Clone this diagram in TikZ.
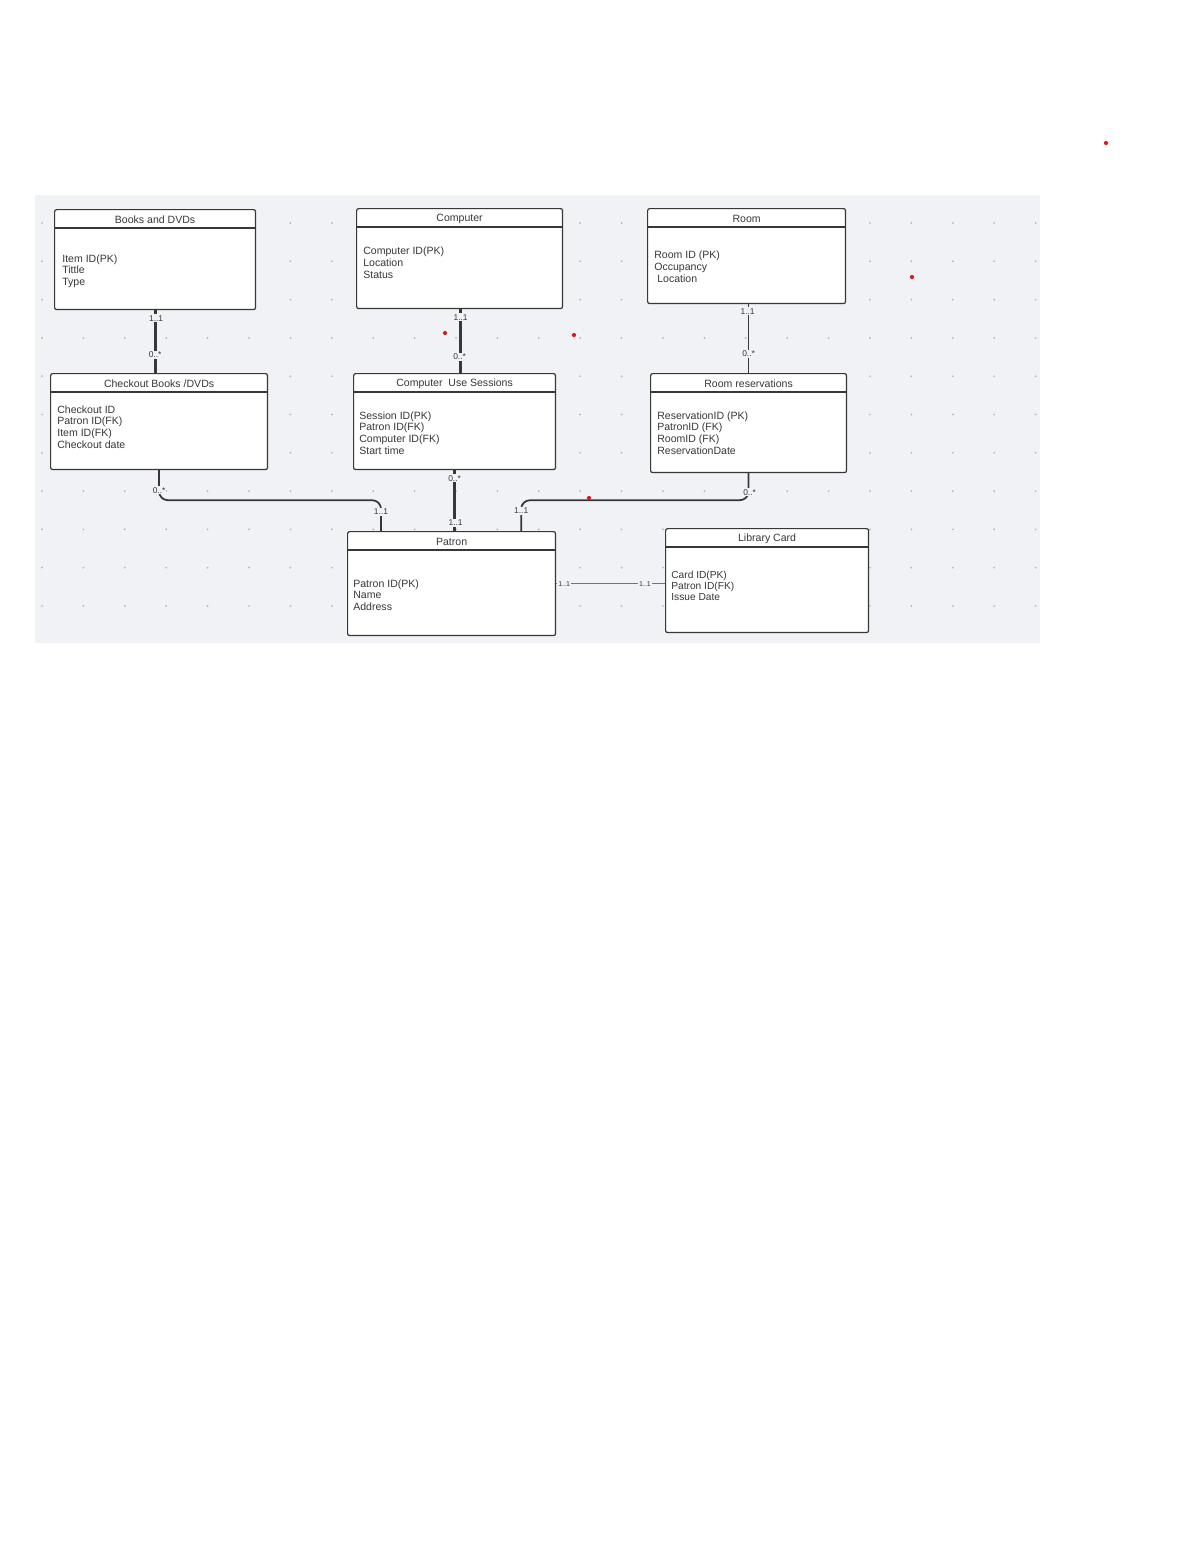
\documentclass[tikz,border=0pt]{standalone}
\usepackage{fontspec}
\setmainfont{Liberation Sans}
\usetikzlibrary{calc}
\definecolor{canvas}{RGB}{240,242,245}
\definecolor{ink}{RGB}{55,55,58}
\definecolor{griddot}{RGB}{175,180,188}
\definecolor{redmark}{RGB}{225,25,25}
\begin{document}
\begin{tikzpicture}[x=0.02cm,y=-0.02cm,
    entity/.style={draw=ink,fill=white,rounded corners=1.2pt,line width=0.7pt,anchor=north west,inner sep=0pt},
    etitle/.style={font=\fontsize{6}{7}\selectfont,text=ink,inner sep=0pt},
    attrs/.style={font=\fontsize{6}{6.8}\selectfont,text=ink,align=left,anchor=north west,inner sep=0pt},
    mult/.style={font=\fontsize{4.8}{5}\selectfont,text=ink,fill=canvas,inner sep=0.6pt},
    rel/.style={draw=ink,line width=1.7pt},
    elbow/.style={draw=ink,line width=1pt,rounded corners=5pt},
    link/.style={draw=ink!70,line width=0.4pt}]
    \useasboundingbox (0,0) rectangle (1200,1553);
    \fill[canvas] (35,195) rectangle (1040,643);
    % dot grid
    \foreach \i in {0,...,24}
      \foreach \j in {0,...,10}
        \fill[griddot] (42+41.4*\i,223+38.3*\j) circle[radius=0.55pt];
    % entities
    \node[entity,minimum width=4.02cm,minimum height=2cm] (books) at (54,209) {};
    \node[entity,minimum width=4.12cm,minimum height=2cm] (computer) at (356,208) {};
    \node[entity,minimum width=3.96cm,minimum height=1.9cm] (room) at (647,208) {};
    \node[entity,minimum width=4.34cm,minimum height=1.92cm] (checkout) at (50,373) {};
    \node[entity,minimum width=4.04cm,minimum height=1.92cm] (sessions) at (353,373) {};
    \node[entity,minimum width=3.92cm,minimum height=1.98cm] (reservations) at (650,373) {};
    \node[entity,minimum width=4.16cm,minimum height=2.08cm] (patron) at (347,531) {};
    \node[entity,minimum width=4.06cm,minimum height=2.08cm] (card) at (665,528) {};
    % header lines
    \foreach \e in {books,computer,room,checkout,sessions,reservations,patron,card}
      \draw[ink,line width=0.9pt] ($(\e.north west)+(0,19)$) -- ($(\e.north east)+(0,19)$);
    % titles
    \node[etitle] (books-t) at ($(books.north)+(0,10.5)$) {Books and DVDs};
    \node[etitle] (computer-t) at ($(computer.north)+(0,11)$) {Computer};
    \node[etitle] (room-t) at ($(room.north)+(0,11)$) {Room};
    \node[etitle] (checkout-t) at ($(checkout.north)+(0,11)$) {Checkout Books /DVDs};
    \node[etitle] (sessions-t) at ($(sessions.north)+(0,11)$) {Computer\ \ Use Sessions};
    \node[etitle] (reservations-t) at ($(reservations.north)+(0,11)$) {Room reservations};
    \node[etitle] (patron-t) at ($(patron.north)+(0,11)$) {Patron};
    \node[etitle] (card-t) at ($(card.north)+(0,11)$) {Library Card};
    % attributes
    \node[attrs] (books-a) at ($(books.north west)+(8,45)$) {Item ID(PK)\\Tittle\\Type};
    \node[attrs] (computer-a) at ($(computer.north west)+(7,39)$) {Computer ID(PK)\\Location\\Status};
    \node[attrs] (room-a) at ($(room.north west)+(7,43)$) {Room ID (PK)\\Occupancy\\\ Location};
    \node[attrs] (checkout-a) at ($(checkout.north west)+(7,32)$) {Checkout ID\\Patron ID(FK)\\Item ID(FK)\\Checkout date};
    \node[attrs] (sessions-a) at ($(sessions.north west)+(6,38)$) {Session ID(PK)\\Patron ID(FK)\\Computer ID(FK)\\Start time};
    \node[attrs] (reservations-a) at ($(reservations.north west)+(7,38)$) {ReservationID (PK)\\PatronID (FK)\\RoomID (FK)\\ReservationDate};
    \node[attrs] (patron-a) at ($(patron.north west)+(6,48)$) {Patron ID(PK)\\Name\\Address};
    \node[attrs,font=\fontsize{5.8}{6.3}\selectfont] (card-a) at ($(card.north west)+(6,43)$) {Card ID(PK)\\Patron ID(FK)\\Issue Date};
    % relationships
    \draw[rel] (books.south) -- (books.south |- checkout.north);
    \draw[rel] ($(computer.south)+(1,0)$) -- ($(computer.south |- sessions.north)+(1,0)$);
    \draw[elbow] (reservations.north |- room.south) -- (reservations.north);
    \draw[rel] (sessions.south) -- (sessions.south |- patron.north);
    \coordinate (p-left) at ($(patron.north west)+(34,0)$);
    \coordinate (p-right) at ($(patron.north east)+(-35,0)$);
    \draw[elbow] (checkout.south) -- ++(0,30) -| (p-left);
    \draw[elbow] (reservations.south) -- ++(0,27) -| (p-right);
    \draw[link] (patron.east) -- (patron.east -| card.west);
    % multiplicities
    \node[mult] (m-books) at ($(books.south)+(1,8)$) {1..1};
    \node[mult] (m-checkout-n) at ($(checkout.north)+(-4,-18)$) {0..*};
    \node[mult] (m-computer) at ($(computer.south)+(1,8)$) {1..1};
    \node[mult] (m-sessions-n) at ($(sessions.north)+(5,-16)$) {0..*};
    \node[mult] (m-room) at ($(room.south)+(1,7)$) {1..1};
    \node[mult] (m-reservations-n) at ($(reservations.north)+(0,-19)$) {0..*};
    \node[mult] (m-checkout-s) at ($(checkout.south)+(0,20)$) {0..*};
    \node[mult] (m-sessions-s) at ($(sessions.south)+(0,8)$) {0..*};
    \node[mult] (m-reservations-s) at ($(reservations.south)+(1,19)$) {0..*};
    \node[mult] (m-patron-l) at ($(p-left)+(0,-19)$) {1..1};
    \node[mult] (m-patron-m) at ($(patron.north)+(4,-8)$) {1..1};
    \node[mult] (m-patron-r) at ($(p-right)+(0,-20)$) {1..1};
    \node[mult,font=\fontsize{4}{4}\selectfont] (m-patron-e) at ($(patron.east)+(8,0)$) {1..1};
    \node[mult,font=\fontsize{4}{4}\selectfont] (m-card-w) at ($(patron.east -| card.west)+(-20,0)$) {1..1};
    % stray red marks
    \foreach \p in {(1106,143),(912,277),(445,333),(574,335),(589,498)}
      \fill[redmark] \p circle[radius=1.2pt];
\end{tikzpicture}
\end{document}
